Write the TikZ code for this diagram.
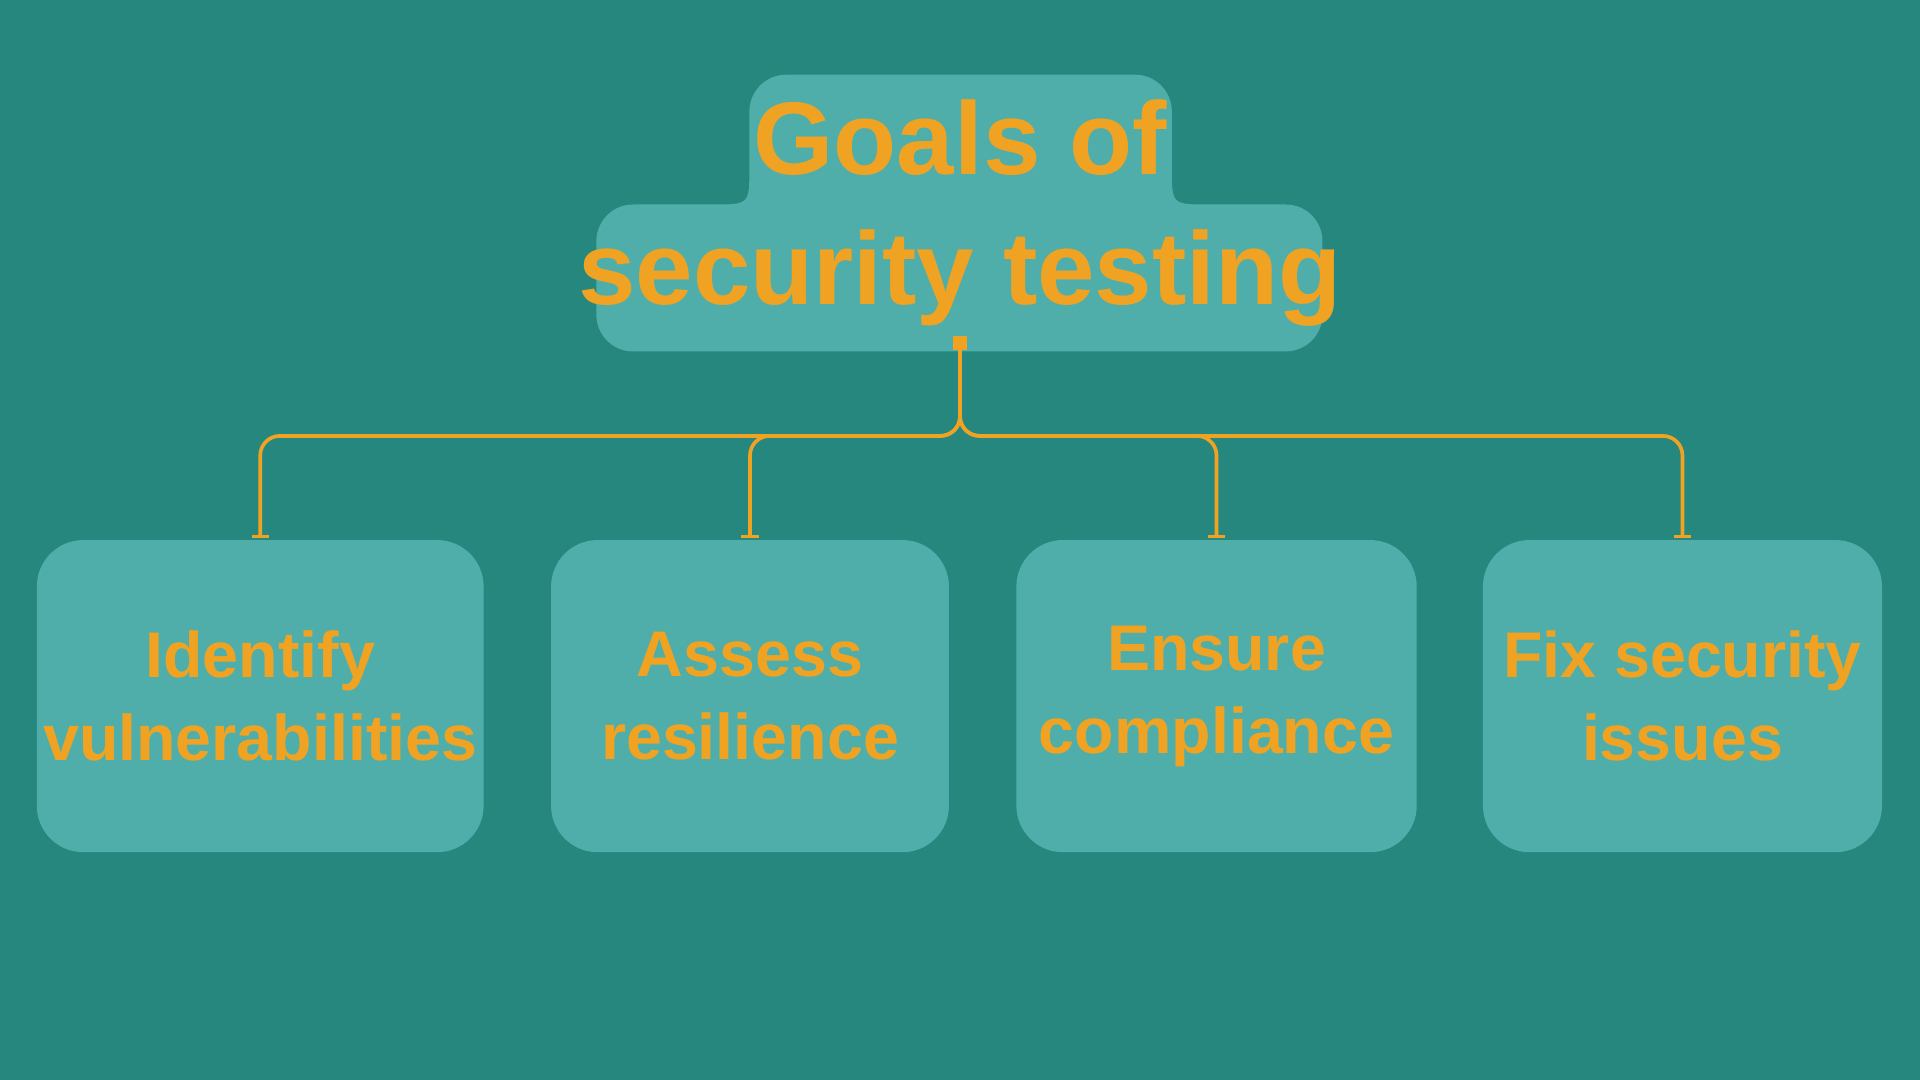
\documentclass[tikz,border=0pt]{standalone}
\usepackage{fontspec}
\setmainfont{Liberation Sans}
\usetikzlibrary{arrows.meta}
\definecolor{bg}{HTML}{26877F}
\definecolor{boxc}{HTML}{4FAEA9}
\definecolor{org}{HTML}{F0A323}
\begin{document}
\begin{tikzpicture}[x=0.02cm,y=-0.02cm,
  child/.style={fill=boxc,rounded corners=0.76cm,text=org,font=\fontsize{30}{38.5}\selectfont\bfseries,align=center,minimum height=5.1cm,inner sep=0pt},
  conn/.style={draw=org,line width=1.7pt,rounded corners=0.32cm,-{Bar[width=8pt,length=0pt]}}]
\fill[bg] (0,0) rectangle (1568,882);
\useasboundingbox (0,0) rectangle (1568,882);
\fill[boxc] (612,91) arc[start angle=180,end angle=90,radius=0.6cm] -- (927,61) arc[start angle=90,end angle=0,radius=0.6cm] -- (957,137) .. controls (957,167) .. (987,167) -- (1050,167) arc[start angle=90,end angle=0,radius=0.6cm] -- (1080,257) arc[start angle=0,end angle=-90,radius=0.6cm] -- (517,287) arc[start angle=270,end angle=180,radius=0.6cm] -- (487,197) arc[start angle=180,end angle=90,radius=0.6cm] -- (582,167) .. controls (612,167) .. (612,137) -- cycle;
\node[text=org,font=\fontsize{48}{60}\selectfont\bfseries,align=center] (title) at (784,174) {Goals of\\security testing};
\coordinate (t) at (784,280);
\node[child,minimum width=7.3cm] (c1) at (212.5,568.5) {Identify\\vulnerabilities};
\node[child,minimum width=6.5cm] (c2) at (612.5,568.5) {Assess\\resilience};
\node[child,minimum width=6.54cm] (c3) at (993.5,568.5) {Ensure\\compliance};
\node[child,minimum width=6.52cm] (c4) at (1374,568.5) {Fix security\\issues};
\fill[org] (778,274) rectangle (790,286);
\foreach \c in {c1,c2,c3,c4}
  \draw[conn] (t) -- (784,356) -| ([yshift=0.02cm]\c.north);
\end{tikzpicture}
\end{document}
